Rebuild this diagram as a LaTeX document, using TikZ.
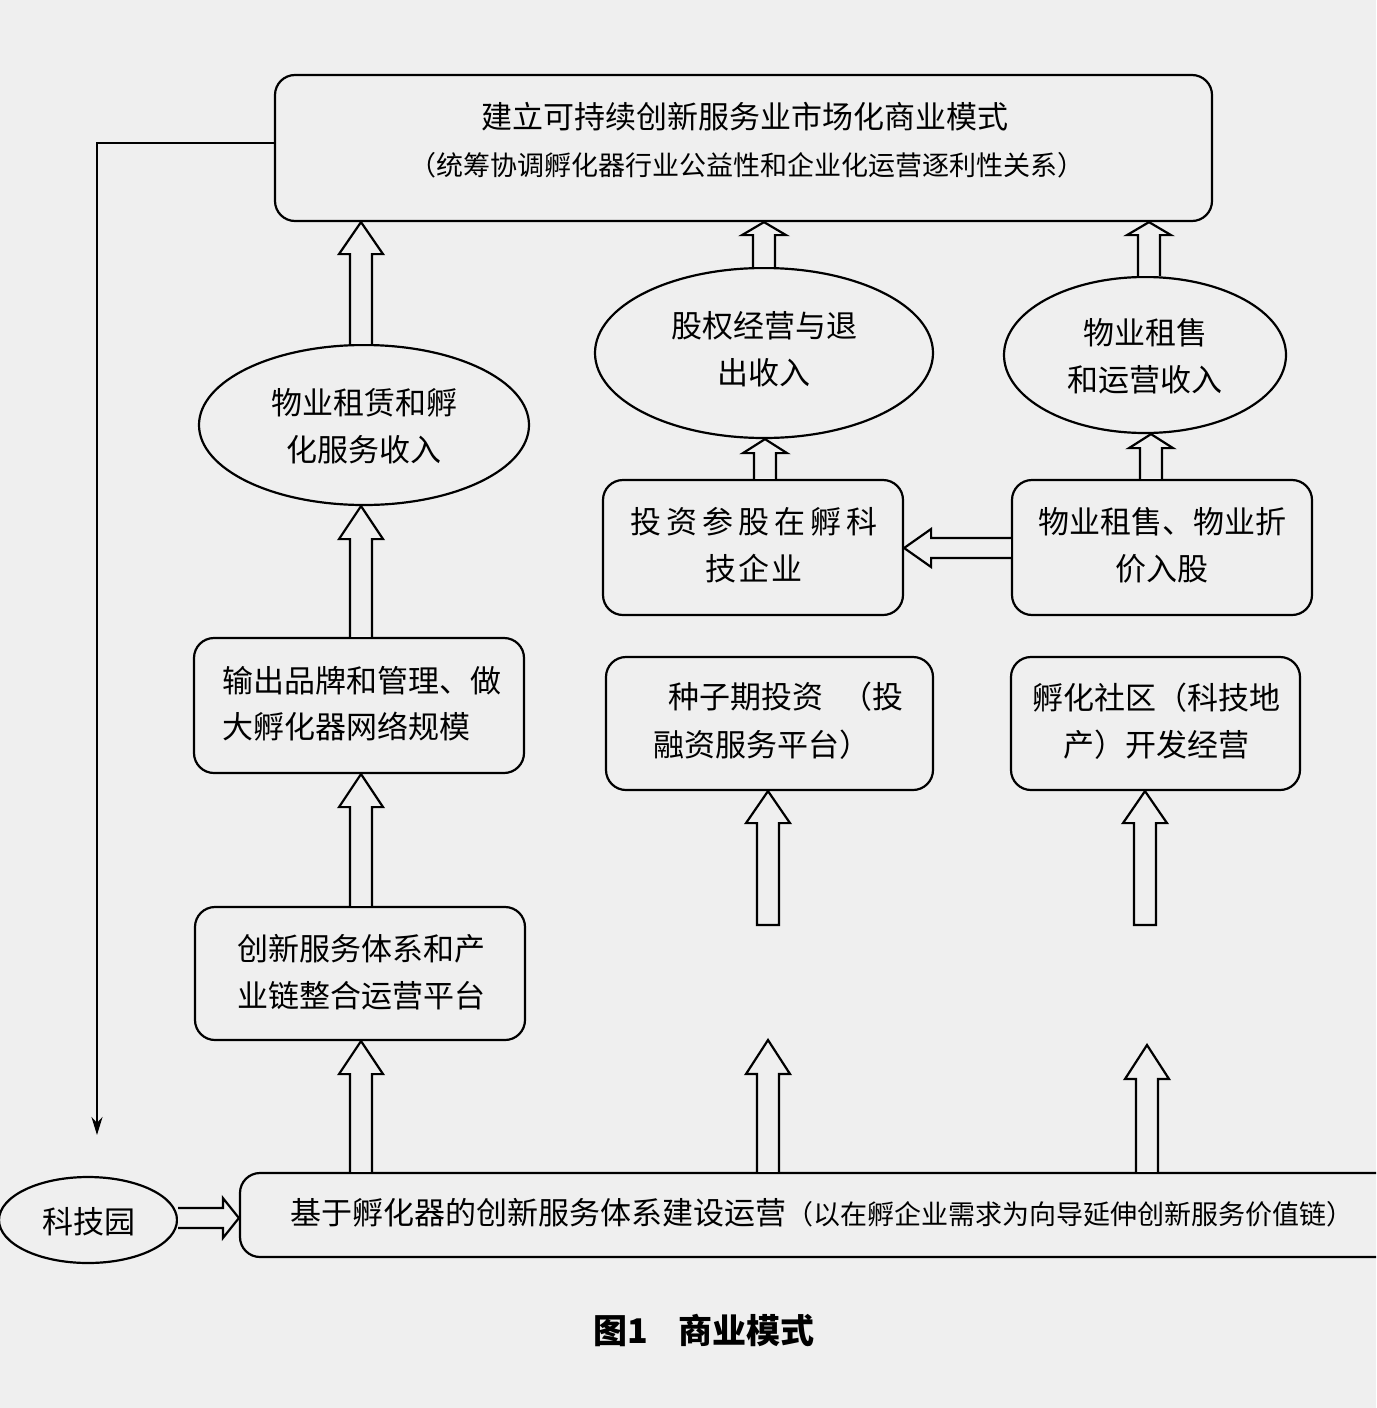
\documentclass[tikz,border=0pt]{standalone}
\usepackage{fontspec}
\usetikzlibrary{calc,arrows.meta,shapes.geometric}
\newfontfamily\cjk{Noto Sans CJK SC}
\definecolor{bgcol}{RGB}{239,239,239}
\tikzset{
  boxst/.style={draw, line width=2.2pt, rounded corners=20pt, inner sep=0pt, fill=bgcol},
  ellst/.style={draw, ellipse, line width=2.2pt, inner sep=0pt, fill=bgcol},
  fatarrow/.style={draw, line width=2.2pt, fill=bgcol, line join=miter},
  big/.style={font=\cjk\fontsize{31}{31}\selectfont, inner sep=0pt},
  small/.style={font=\cjk\fontsize{27}{27}\selectfont, inner sep=0pt},
  captionst/.style={font=\cjk\bfseries\fontsize{34}{34}\selectfont, inner sep=0pt},
  fbline/.style={line width=2.2pt, -{Stealth[length=18pt,width=11pt]}},
}
% vertical hollow arrow: x, from node/coord (bottom), to node/coord (top), head length
\newcommand\fatup[4]{\draw[fatarrow] let \p1=(#2), \p2=(#3) in
  (#1pt-11pt,\y1) -- (#1pt-11pt,\y2-#4pt) -- (#1pt-22pt,\y2-#4pt) -- (#1pt,\y2)
  -- (#1pt+22pt,\y2-#4pt) -- (#1pt+11pt,\y2-#4pt) -- (#1pt+11pt,\y1);}
\newcommand\fatupclosed[4]{\draw[fatarrow] let \p1=(#2), \p2=(#3) in
  (#1pt-11pt,\y1) -- (#1pt-11pt,\y2-#4pt) -- (#1pt-22pt,\y2-#4pt) -- (#1pt,\y2)
  -- (#1pt+22pt,\y2-#4pt) -- (#1pt+11pt,\y2-#4pt) -- (#1pt+11pt,\y1) -- cycle;}
\begin{document}
\begin{tikzpicture}[x=1pt,y=-1pt]
\useasboundingbox (0,0) rectangle (1376,1408);
\fill[bgcol] (0,0) rectangle (1376,1408);
\clip (0,0) rectangle (1376,1408);

% top box
\node[boxst, minimum width=937pt, minimum height=146pt] (top) at (743.5,148) {};
\node[big] (t1) at (745,117) {建立可持续创新服务业市场化商业模式};
\node[small] (t2) at (747,165) {（统筹协调孵化器行业公益性和企业化运营逐利性关系）};

% left column
\node[ellst, minimum width=330pt, minimum height=160pt] (e1) at (364,425) {};
\node[big, align=center] (e1t) at (364,426) {物业租赁和孵\\[16pt]化服务收入};
\node[boxst, minimum width=330pt, minimum height=135pt] (b2) at (359,705.5) {};
\node[big, align=left, anchor=west] (b2t) at (222,704) {输出品牌和管理、做\\[15pt]大孵化器网络规模};
\node[boxst, minimum width=330pt, minimum height=133pt] (b3) at (360,973.5) {};
\node[big, align=center] (b3t) at (361,972) {创新服务体系和产\\[16pt]业链整合运营平台};

% middle column
\node[ellst, minimum width=338pt, minimum height=170pt] (e2) at (764,353) {};
\node[big, align=center] (e2t) at (764,349) {股权经营与退\\[16pt]出收入};
\node[boxst, minimum width=300pt, minimum height=135pt] (bm1) at (753,547.5) {};
\node[big, align=center] (bm1t) at (754,545) {投\hspace{5pt}资\hspace{5pt}参\hspace{5pt}股\hspace{5pt}在\hspace{5pt}孵\hspace{5pt}科\\[16pt]技\hspace{2pt}企\hspace{2pt}业\hspace{14pt}};
\node[boxst, minimum width=327pt, minimum height=133pt] (bm2) at (769.5,723.5) {};
\node[big, anchor=west] (bm2a) at (668,697) {种子期投资\hspace{18pt}（投};
\node[big, anchor=west] (bm2b) at (653,745) {融资服务平台）};

% right column
\node[ellst, minimum width=282pt, minimum height=156pt] (e3) at (1145,355) {};
\node[big, align=center] (e3t) at (1145,356) {物业租售\\[16pt]和运营收入};
\node[boxst, minimum width=300pt, minimum height=135pt] (br1) at (1162,547.5) {};
\node[big, align=center] (br1t) at (1162,545) {物业租售、物业折\\[16pt]价入股};
\node[boxst, minimum width=289pt, minimum height=133pt] (br2) at (1155.5,723.5) {};
\node[big, align=center] (br2t) at (1156,721) {孵化社区（科技地\\[16pt]产）开发经营};

% bottom
\node[boxst, minimum width=1180pt, minimum height=84pt] (bot) at (830,1215) {};
\node[anchor=west, inner sep=0pt] (bott) at (290,1213) {\cjk{\fontsize{31}{31}\selectfont 基于孵化器的创新服务体系建设运营}{\fontsize{27}{27}\selectfont （以在孵企业需求为向导延伸创新服务价值链）}};
\node[ellst, minimum width=178pt, minimum height=86pt] (kj) at (88,1220) {};
\node[big] (kjt) at (89,1222) {科技园};

% free ends
\coordinate (m2foot) at (768,925);
\coordinate (r2foot) at (1145,925);
\coordinate (m1tip) at (768,1040);
\coordinate (r1tip) at (1147,1045);
\coordinate (fbe) at (97,1135);

% left column arrows
\fatup{361}{bot.north}{b3.south}{33}
\fatup{361}{b3.north}{b2.south}{33}
\fatup{361}{b2.north}{e1.south}{33}
\fatup{361}{e1.north}{top.south}{32}
% middle arrows
\fatup{768}{bot.north}{m1tip}{34}
\fatupclosed{768}{m2foot}{bm2.south}{32}
\fatup{765}{bm1.north}{e2.south}{14}
\fatup{764}{e2.north}{top.south}{13}
% right arrows
\fatup{1147}{bot.north}{r1tip}{34}
\fatupclosed{1145}{r2foot}{br2.south}{32}
\fatup{1151}{br1.north}{e3.south}{14}
\fatup{1149}{e3.north}{top.south}{13}
% horizontal arrows (canonical y is negative of picture y)
\draw[fatarrow] let \p1=(br1.west), \p2=(bm1.east) in
  (\x1,-538pt) -- (\x2+27pt,-538pt) -- (\x2+27pt,-529pt) -- (\x2,-548pt)
  -- (\x2+27pt,-567pt) -- (\x2+27pt,-558pt) -- (\x1,-558pt);
\draw[fatarrow] let \p1=(kj.east), \p2=(bot.west) in
  (\x1,-1208pt) -- (\x2-16pt,-1208pt) -- (\x2-16pt,-1198pt) -- (\x2,-1218pt)
  -- (\x2-16pt,-1238pt) -- (\x2-16pt,-1228pt) -- (\x1,-1228pt);

% feedback line
\draw[fbline] ([yshift=5pt]top.west) -| (fbe);

% caption
\node[captionst] (cap) at (704,1330) {图1\hspace{30pt}商业模式};
\end{tikzpicture}
\end{document}
